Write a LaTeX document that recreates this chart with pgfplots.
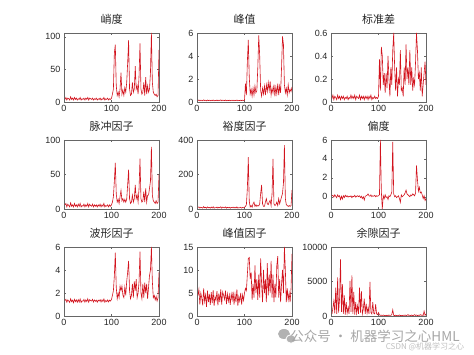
\documentclass[border=0pt]{standalone}
\usepackage{fontspec}
\setmainfont{Liberation Sans}
\newfontfamily\cjk{Noto Sans CJK SC}
\usepackage{pgfplots}
\usepackage{pgfplotstable}
\pgfplotsset{compat=1.18}

\pgfplotstableread{
x ku pk sd im mg sk wf cr cl
2 4 .12 .03 6 9 0.1 1.35 4.5 300
4 7 .18 .06 8 12 0.15 1.45 5.8 1200
6 3 .10 .02 3 5 -0.05 1.2 2.5 2200
8 6 .16 .05 7 10 0.2 1.4 5 400
10 5 .14 .04 5 8 0.05 1.3 4 4100
12 3 .11 .02 3 5 -0.1 1.18 2.3 300
14 8 .19 .06 9 14 0.2 1.5 6 5600
16 4 .13 .03 4 7 0.0 1.25 3.2 500
18 6 .15 .05 6 10 0.1 1.38 4.6 2500
20 3 .10 .02 3 5 -0.3 1.15 2 8200
22 7 .17 .05 8 12 0.05 1.45 5.5 600
24 4 .12 .03 4 7 -0.25 1.25 3 4600
26 6 .16 .05 6 9 0.1 1.4 4.8 300
28 3 .11 .02 3 5 -0.1 1.2 2.4 3000
30 5 .15 .04 7 11 0.15 1.42 5.2 200
32 4 .12 .03 4 6 0.0 1.22 2.8 2000
34 7 .18 .05 8 13 0.1 1.48 5.6 400
36 3 .10 .02 3 5 -0.05 1.18 2.2 1200
38 5 .14 .04 5 8 0.05 1.32 4.2 300
40 4 .12 .03 4 7 0.0 1.28 3.4 5100
42 6 .17 .06 7 11 0.1 1.45 5.4 600
44 3 .11 .03 3 5 -0.1 1.2 2.3 5900
46 6 .16 .05 6 10 0.05 1.4 4.9 300
48 4 .13 .03 4 7 0.0 1.25 3 3500
50 7 .18 .06 8 13 0.15 1.5 5.8 200
52 3 .11 .02 3 5 -0.05 1.2 2.5 2000
54 6 .16 .05 7 11 0.05 1.42 5.2 400
56 5 .14 .04 5 9 0.1 1.35 4.5 1500
58 4 .12 .03 4 7 0.0 1.3 3.6 300
60 6 .17 .06 7 12 0.1 1.45 5.5 4100
62 3 .11 .02 3 5 -0.1 1.22 2.6 500
64 5 .15 .05 6 10 0.05 1.4 4.8 3600
66 4 .12 .03 4 7 -0.2 1.28 3.2 300
68 6 .16 .05 6 10 0.0 1.38 4.6 1000
70 3 .11 .02 3 5 -0.35 1.2 2.4 2500
72 5 .15 .05 6 9 0.05 1.38 4.8 300
74 4 .13 .03 4 7 0.1 1.3 3.5 1800
76 6 .16 .05 7 11 0.15 1.42 5.3 400
78 3 .11 .02 3 6 0.3 1.22 2.5 1200
80 5 .15 .05 6 10 0.1 1.4 4.7 300
82 4 .12 .03 4 6 0.05 1.26 3 4950
84 7 .17 .06 8 12 0.2 1.48 5.8 500
86 3 .11 .02 3 5 0.0 1.2 2.2 300
88 5 .14 .04 5 8 0.1 1.35 4.2 2000
90 4 .12 .03 4 7 0.05 1.25 3.2 400
92 6 .16 .05 6 10 0.15 1.4 5 300
94 3 .12 .03 3 5 0.0 1.22 2.5 1700
96 5 .15 .04 6 9 0.1 1.38 4.6 300
98 4 .13 .03 4 7 0.05 1.3 3.4 200
100 6 .16 .05 6 10 0.1 1.45 5 500
102 12 1.6 .37 10 15 0.2 1.8 6 150
104 20 0.6 .10 18 25 6.0 2.2 5.5 100
106 75 3.5 .48 40 120 0.5 3.5 9 120
108 88 5.4 .40 67 300 -1.3 5.5 12.5 80
110 25 2.2 .15 22 45 0.1 2.5 12.7 150
112 10 0.7 .25 10 12 -0.2 1.5 8 60
114 15 1.1 .08 14 20 0.2 2.0 9.5 100
116 8 0.5 .25 8 10 -0.1 1.6 3.5 50
118 20 1.2 .12 18 30 0.0 2.6 7 120
120 45 0.6 .40 27 40 -0.3 2.2 4 60
122 12 1.4 .20 12 15 0.1 2.6 11 150
124 18 0.8 .05 15 25 0.0 1.8 5 80
126 10 1.0 .30 10 15 0.2 1.6 8 100
128 22 3.0 .15 14 20 0.5 2.5 3.5 200
130 15 5.8 .45 10 18 5.8 1.8 9 900
132 30 4.0 .60 14 30 0.3 3.0 4 100
134 60 1.0 .30 35 90 0.0 3.8 12.5 60
136 95 0.5 .10 57 140 0.1 4.8 7 120
138 20 1.2 .30 15 30 -0.1 2.2 3 50
140 10 0.7 .05 8 15 0.0 1.5 10 100
142 12 1.4 .20 10 15 0.1 1.8 5 80
144 30 0.6 .15 20 40 -0.2 2.8 8 150
146 15 1.5 .45 10 60 -0.6 1.6 3 60
148 20 0.9 .10 15 30 0.2 3.0 11.5 100
150 55 1.7 .12 35 25 0.0 2.2 4.5 50
152 20 1.0 .05 15 40 0.1 3.2 9 120
154 25 1.8 .30 20 50 0.2 1.6 5 80
156 12 0.6 .15 10 20 0.4 2.0 12 150
158 40 1.2 .50 30 90 0.7 3.0 4 60
160 90 0.8 .20 73 290 0.3 5.6 9 100
162 20 1.5 .30 15 30 0.2 2.0 3 200
164 12 0.5 .15 10 20 0.1 1.5 7 80
166 15 1.3 .45 12 25 0.0 2.8 4 120
168 30 0.7 .15 25 40 0.2 1.6 11 60
170 10 1.6 .30 10 20 0.1 2.9 13 150
172 38 0.6 .10 30 60 0.3 2.0 4 50
174 12 1.4 .20 10 30 0.2 2.8 8 100
176 25 0.8 .15 20 50 0.1 1.5 3 200
178 15 3.0 .35 20 70 0.4 2.5 7 80
180 20 5.7 .60 30 90 3.3 3.5 10 150
182 45 5.0 .45 40 150 1.8 4.0 5 60
184 106 1.5 .20 90 370 0.6 6.0 15 120
186 30 0.8 .25 20 60 1.0 3.0 10 80
188 15 1.2 .10 12 25 0.4 1.6 3 200
190 12 0.6 .30 10 20 0.5 1.8 6 100
192 10 1.5 .05 8 15 0.2 1.4 3.5 150
194 12 0.8 .15 12 20 -0.2 1.7 5 60
196 8 1.1 .25 8 15 0.1 1.3 3 700
198 10 0.9 .35 10 20 -0.4 1.6 6 100
200 80 1.3 .15 50 110 -0.2 3.8 13.5 300
}\data

\definecolor{ln}{RGB}{210,20,30}

\pgfplotsset{
 sig/.style={ln, line width=0.6pt, mark=none},
 sub/.style={
  scale only axis, width=95pt, height=69pt, anchor=south west,
  xmin=0, xmax=200, xtick={0,100,200},
  tick align=inside, major tick length=2pt,
  axis line style={black!60}, tick style={black!60},
  ticklabel style={font=\fontsize{9}{10}\selectfont, text=black!85},
  title style={font=\cjk\fontsize{11}{12}\selectfont, yshift=-1pt, text=black!85},
  /pgf/number format/assume math mode=true,
  /pgf/number format/1000 sep={},
  scaled y ticks=false,
 }}

\begin{document}
\begin{tikzpicture}
\useasboundingbox (0pt,0pt) rectangle (474pt,355pt);

\begin{axis}[sub, at={(64pt,253pt)}, title={峭度}, ymin=0, ymax=106, ytick={0,50,100}]
\addplot[sig] table[x=x,y=ku]{\data};
\end{axis}
\begin{axis}[sub, at={(197pt,253pt)}, title={峰值}, ymin=0, ymax=6, ytick={0,2,4,6}]
\addplot[sig] table[x=x,y=pk]{\data};
\end{axis}
\begin{axis}[sub, at={(331pt,253pt)}, title={标准差}, ymin=0, ymax=0.6, ytick={0,0.2,0.4,0.6}]
\addplot[sig] table[x=x,y=sd]{\data};
\end{axis}

\begin{axis}[sub, at={(64pt,146pt)}, title={脉冲因子}, ymin=0, ymax=100, ytick={0,50,100}]
\addplot[sig] table[x=x,y=im]{\data};
\end{axis}
\begin{axis}[sub, at={(197pt,146pt)}, title={裕度因子}, ymin=0, ymax=400, ytick={0,200,400}]
\addplot[sig] table[x=x,y=mg]{\data};
\end{axis}
\begin{axis}[sub, at={(331pt,146pt)}, title={偏度}, ymin=-1.3, ymax=6, ytick={0,2,4,6}]
\addplot[sig] table[x=x,y=sk]{\data};
\end{axis}

\begin{axis}[sub, at={(64pt,39pt)}, title={波形因子}, ymin=0, ymax=6, ytick={0,2,4,6}]
\addplot[sig] table[x=x,y=wf]{\data};
\end{axis}
\begin{axis}[sub, at={(197pt,39pt)}, title={峰值因子}, ymin=0, ymax=15, ytick={0,5,10,15}]
\addplot[sig] table[x=x,y=cr]{\data};
\end{axis}
\begin{axis}[sub, at={(331pt,39pt)}, title={余隙因子}, ymin=0, ymax=10000, ytick={0,5000,10000}]
\addplot[sig] table[x=x,y=cl]{\data};
\end{axis}

\fill[black!30] (284pt,21pt) ellipse (6pt and 5pt);
\fill[black!30, draw=white, line width=0.8pt] (291pt,16pt) ellipse (5pt and 4.2pt);
\node[text=black!35, font=\cjk\fontsize{13.5}{14}\selectfont] at (375pt,19pt) {公众号 · 机器学习之心HML};
\node[text=black!25, font=\cjk\fontsize{8}{8}\selectfont] at (425pt,8pt) {CSDN @机器学习之心};
\end{tikzpicture}
\end{document}
